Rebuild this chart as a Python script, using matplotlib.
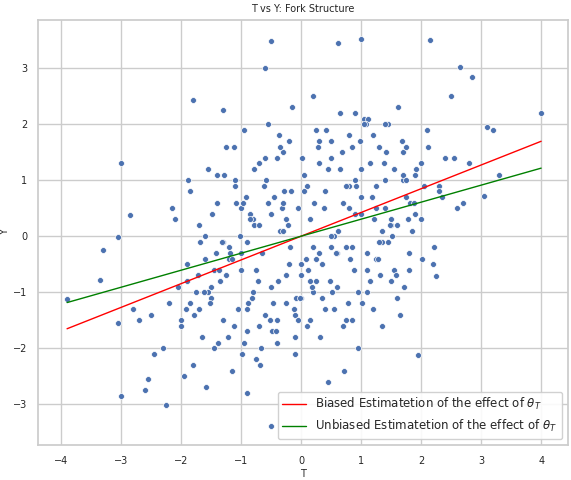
import matplotlib
matplotlib.use("Agg")
import matplotlib.pyplot as plt
import seaborn as sns

sns.set_theme(style="whitegrid")

T = [-3.9,-3.0,-3.0,-2.25,-0.5,0.62,1.0,2.15,4.0,-0.5,-1.8,2.65,2.85,3.1,3.2,3.3,3.05,-3.3,-3.35,-3.05,-2.85,-3.05,-2.8,-2.55,-2.6,-2.45,-0.6,-1.3,1.95,2.25,0.45,-0.9,
 -2.2,-2.1,-2.0,-1.9,-1.85,-1.8,-1.75,-1.7,-1.65,-1.6,-1.55,-1.5,-1.45,-1.4,-1.35,-1.3,-1.25,-1.2,-1.15,-1.1,-1.05,-1.0,-0.95,-0.9,-0.85,-0.8,-0.75,-0.7,-0.65,-0.6,-0.55,-0.5,-0.45,-0.4,-0.35,-0.3,-0.25,-0.2,-0.15,-0.1,-0.05,0.0,0.05,0.1,0.15,0.2,0.25,0.3,0.35,0.4,0.45,0.5,0.55,0.6,0.65,0.7,0.75,0.8,0.85,0.9,0.95,1.0,1.05,1.1,1.15,1.2,1.25,1.3,1.35,1.4,1.45,1.5,1.55,1.6,1.65,1.7,1.75,1.8,1.9,2.0,2.1,2.2,2.3,2.4,2.5,
 -2.15,-2.05,-1.95,-1.88,-1.78,-1.68,-1.58,-1.48,-1.38,-1.28,-1.18,-1.08,-0.98,-0.88,-0.78,-0.68,-0.58,-0.48,-0.38,-0.28,-0.18,-0.08,0.02,0.12,0.22,0.32,0.42,0.52,0.62,0.72,0.82,0.92,1.02,1.12,1.22,1.32,1.42,1.52,1.62,1.72,1.82,1.92,2.02,2.12,2.22,2.35,2.55,2.7,
 -2.3,-2.0,-1.9,-1.7,-1.5,-1.4,-1.2,-1.1,-0.9,-0.8,-0.7,-0.6,-0.4,-0.3,-0.2,-0.1,0.0,0.1,0.2,0.3,0.4,0.5,0.6,0.7,0.8,0.9,1.0,1.1,1.2,1.3,1.4,1.5,1.6,1.7,1.8,1.9,2.0,2.3,
 -1.6,-1.3,-1.0,-0.7,-0.4,-0.1,0.2,0.5,0.8,1.1,1.4,1.7,-1.45,-1.15,-0.85,-0.55,-0.25,0.05,0.35,0.65,0.95,1.25,1.55,1.85,
 -1.0,-0.5,0.0,0.5,1.0,1.5,-0.75,-0.25,0.25,0.75,1.25,-1.25,-2.5,-2.7,2.6,2.8,-1.55,1.75,0.15,-0.35,0.85,-0.95,1.35,-1.85,
 -1.72,-1.52,-1.32,-1.12,-0.92,-0.72,-0.52,-0.32,-0.12,0.08,0.28,0.48,0.68,0.88,1.08,1.28,1.48,1.68,1.88,
 -1.62,-1.42,-1.22,-1.02,-0.82,-0.62,-0.42,-0.22,-0.02,0.18,0.38,0.58,0.78,0.98,1.18,1.38,1.58,1.78,
 -1.92,-1.36,-0.96,-0.66,-0.36,-0.06,0.24,0.54,0.84,1.14,1.44,1.74,2.04,
 -1.12,-0.78,-0.46,-0.16,0.14,0.44,0.74,1.04,1.34,-0.9,-0.3,0.3,0.9]
Y = [-1.13,1.3,-2.85,-3.02,3.48,3.45,3.53,3.5,2.2,-3.4,2.43,3.02,2.85,1.95,1.9,1.1,0.72,-0.25,-0.78,-0.02,0.38,-1.55,-1.3,-2.55,-2.75,-2.1,3.0,2.25,-2.12,-0.72,-3.0,-2.8,
 -1.2,0.3,-1.6,-0.5,0.8,-2.3,-1.0,0.2,-1.8,-0.4,1.2,-1.1,-2.0,0.6,-0.8,-1.5,1.6,-0.2,-2.4,0.9,-1.3,-0.6,1.9,-1.7,0.4,-1.0,-2.2,1.3,-0.3,-1.4,2.0,-0.9,0.7,-1.9,0.1,1.5,-1.2,-0.5,2.3,-2.1,0.5,-0.7,1.1,-1.6,0.3,2.5,-0.4,1.7,-1.1,0.8,-2.6,1.4,0.0,-0.9,2.2,0.6,-1.5,1.8,-0.2,1.0,-2.0,0.4,2.1,-0.6,1.3,-1.3,0.9,1.6,-0.1,0.5,2.0,-0.8,1.2,0.2,-1.4,1.5,0.7,-0.3,1.1,0.3,1.9,-0.5,0.9,1.4,2.5,
 0.5,-0.9,-2.5,1.0,-1.4,-0.1,-2.7,0.4,-1.9,1.1,-0.3,0.6,-2.1,-1.2,0.2,-2.3,1.0,-1.7,-0.8,0.8,-0.2,-1.1,1.4,-0.6,0.6,-1.8,1.9,-1.0,0.1,-2.4,-0.4,0.9,-1.2,2.1,0.3,-0.7,1.5,0.0,2.3,-0.9,0.6,1.2,-0.4,1.6,-0.2,0.7,1.4,0.6,
 -2.0,-1.5,-0.8,-1.3,-0.9,1.1,-0.4,1.0,-1.3,0.3,-1.6,1.4,-1.5,0.1,1.7,-1.8,-1.1,0.9,-0.2,1.3,-1.3,1.7,-0.3,-1.6,0.5,2.2,1.2,-1.0,1.8,-0.1,2.0,0.3,-1.1,1.0,-0.6,0.4,1.3,0.8,
 0.0,-0.1,0.5,0.2,1.4,-1.4,-1.0,0.0,0.9,-0.3,1.0,1.1,-0.6,-0.4,0.3,0.6,-0.7,0.8,-0.5,1.2,-1.0,0.5,-0.6,0.1,
 -0.3,0.4,-0.5,-0.2,0.7,0.2,-0.6,0.3,-0.8,0.9,-0.4,-0.7,-1.4,-1.5,0.5,1.3,-1.0,1.0,-1.5,1.6,-1.5,-1.9,-1.6,-1.2,
 -0.7,-1.2,-0.1,-1.6,0.7,-0.8,-1.5,0.5,-1.3,-0.4,1.6,-0.8,1.5,-0.6,2.0,-0.4,0.2,1.7,0.6,
 -1.0,-0.3,-1.8,0.0,-1.1,0.9,-1.7,0.2,-1.1,-0.9,0.5,-0.3,-1.2,1.7,0.7,1.3,-0.7,0.3,
 -1.3,-0.6,0.6,-2.0,1.8,-1.5,1.9,-1.3,1.6,-0.8,-0.1,1.6,0.9,
 1.6,1.2,-1.2,0.8,-0.8,1.2,-0.2,2.0,0.1,-0.1,0.6,-0.3,0.4]

biased_slope, biased_int = 0.424, 0.0
unbiased_slope, unbiased_int = 0.304, 0.0
line_x = [-3.9, 4.0]

fig, ax = plt.subplots(figsize=(5.71, 4.8), dpi=100)
ax.scatter(T, Y, s=18, color="#4c72b0", edgecolor="white", linewidth=0.5, zorder=2)
ax.plot(line_x, [biased_int + biased_slope*x for x in line_x], color="red", lw=1,
        label=r"Biased Estimatetion of the effect of $\theta_T$")
ax.plot(line_x, [unbiased_int + unbiased_slope*x for x in line_x], color="green", lw=1,
        label=r"Unbiased Estimatetion of the effect of $\theta_T$")
ax.set_xlim(-4.38, 4.45)
ax.set_ylim(-3.73, 3.86)
ax.set_xticks(range(-4, 5))
ax.set_yticks(range(-3, 4))
ax.tick_params(labelsize=7, pad=2)
ax.set_xlabel("T", fontsize=7, labelpad=2)
ax.set_ylabel("Y", fontsize=7, labelpad=2)
ax.set_title("T vs Y: Fork Structure", fontsize=7)
ax.legend(loc="lower right", fontsize=8.5, framealpha=0.9)
fig.subplots_adjust(left=0.067, right=0.995, top=0.958, bottom=0.073)
fig.savefig("out.png", dpi=100)
